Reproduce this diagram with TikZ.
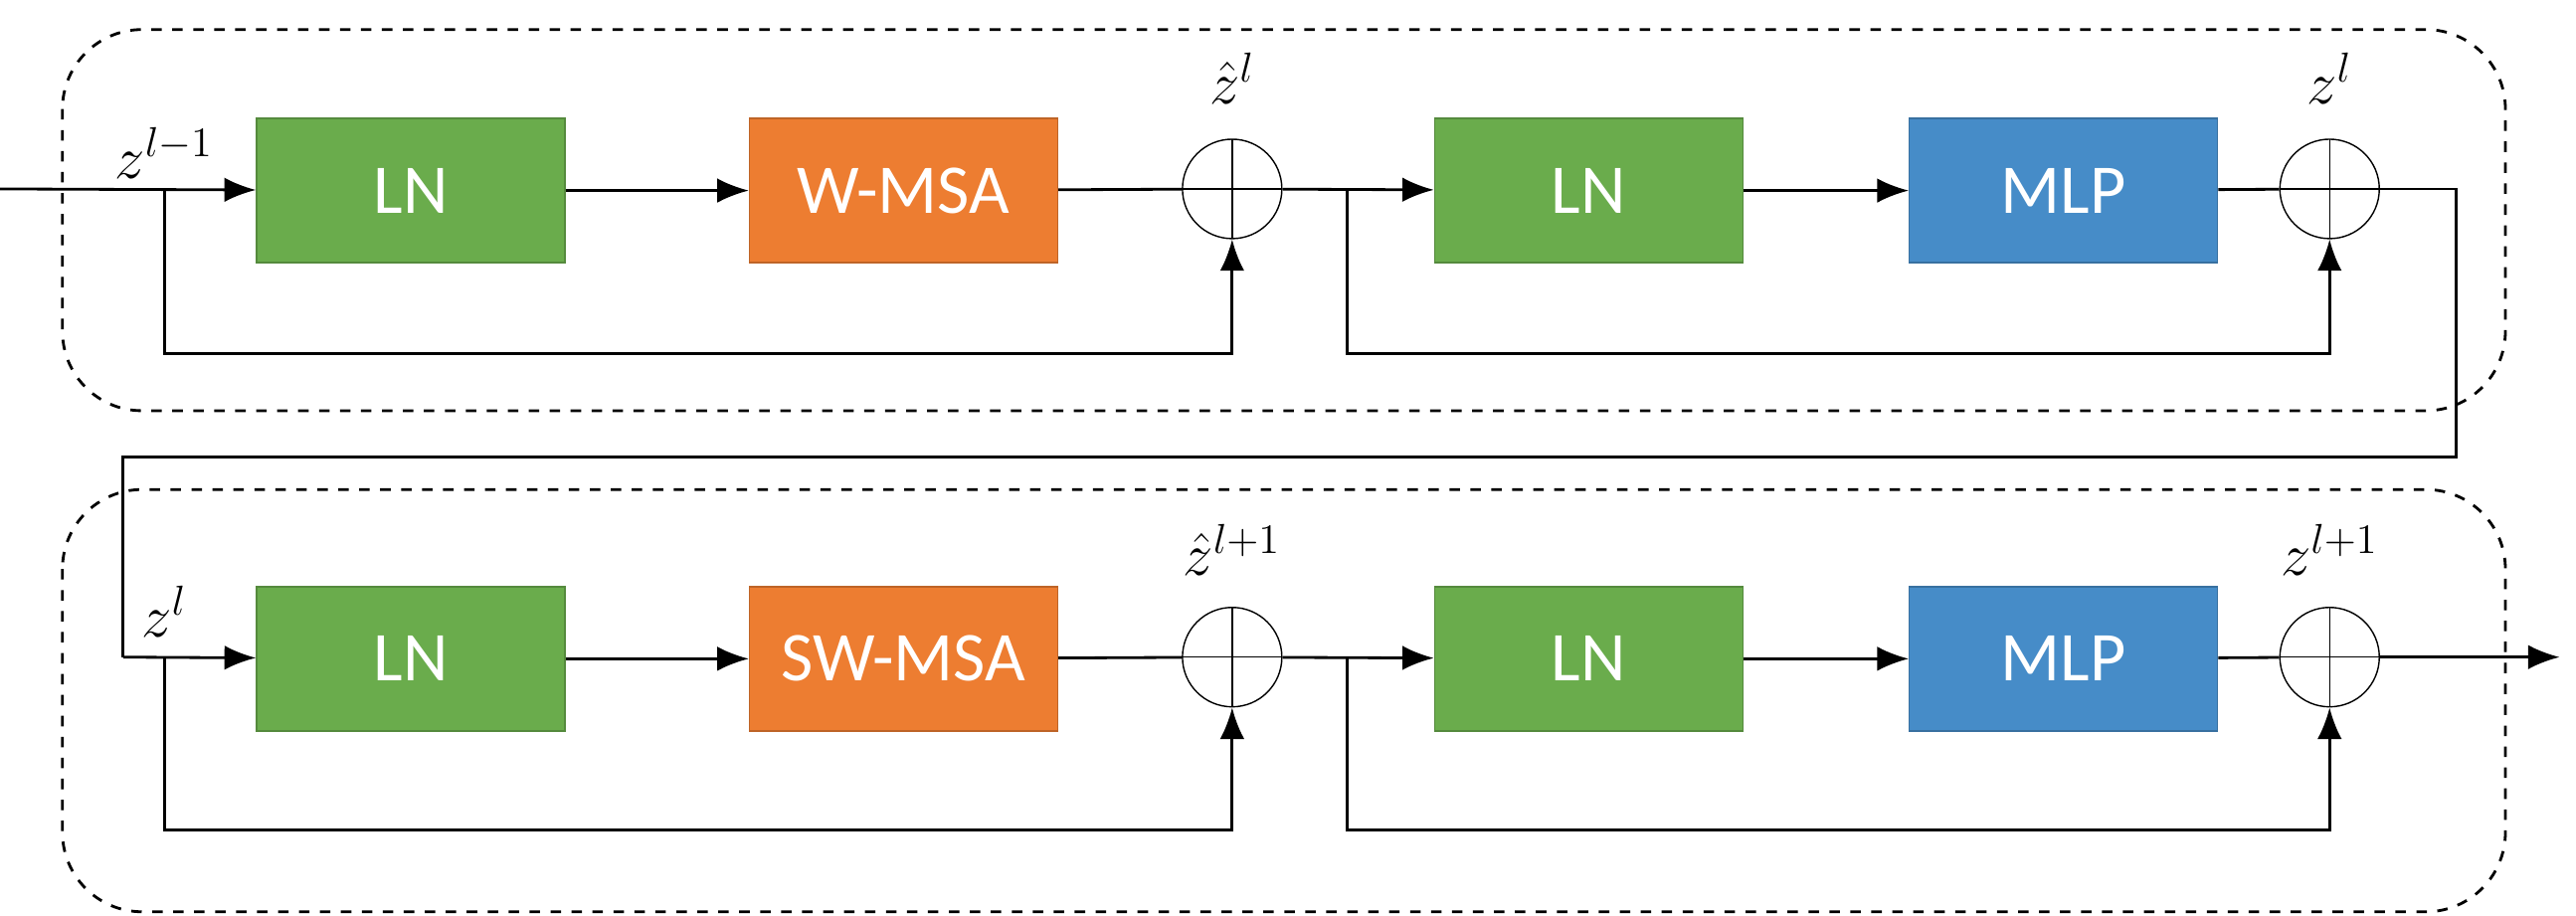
\documentclass[tikz,border=0pt]{standalone}
\usepackage{fontspec}
\setmainfont{Carlito}
\usetikzlibrary{arrows.meta}
\definecolor{lngreen}{RGB}{106,172,76}
\definecolor{msaorange}{RGB}{237,125,49}
\definecolor{mlpblue}{RGB}{70,140,200}
\begin{document}
\begin{tikzpicture}[x=0.01652cm,y=-0.01652cm,
  blk/.style={draw=#1!80!black,fill=#1,minimum width=3.1cm,minimum height=1.45cm,
    text=white,font=\fontsize{20}{24}\selectfont},
  add/.style={draw,circle,minimum size=1cm,inner sep=0pt,
    path picture={\draw (path picture bounding box.north)--(path picture bounding box.south)
      (path picture bounding box.west)--(path picture bounding box.east);}},
  arr/.style={-{Latex[length=9pt,width=7pt]},thick},
  ln/.style={thick},
  lab/.style={font=\fontsize{18}{20}\selectfont},
  frame/.style={draw,dashed,thick,rounded corners=0.8cm}]
\useasboundingbox (0,0) rectangle (1568,557);
\draw[frame] (38,18) rectangle (1525,250);
\draw[frame] (38,298) rectangle (1525,555);
% top row
\coordinate (in) at (0,115);
\node[blk=lngreen] (ln1) at (250,116) {LN};
\node[blk=msaorange] (msa1) at (550,116) {W-MSA};
\node[add] (a1) at (750,115) {};
\node[blk=lngreen] (ln2) at (967,116) {LN};
\node[blk=mlpblue] (mlp1) at (1256,116) {MLP};
\node[add] (a2) at (1418,115) {};
\node[lab] at (100,93) {$z^{l-1}$};
\node[lab] at (750,48) {$\hat{z}^{l}$};
\node[lab] at (1418,48) {$z^{l}$};
\draw[arr] (in) -- (ln1);
\draw[arr] (ln1) -- (msa1);
\draw[ln] (msa1) -- (a1);
\draw[arr] (a1) -- (ln2);
\draw[arr] (ln2) -- (mlp1);
\draw[ln] (mlp1) -- (a2);
\draw[arr] (100,115) -- (100,215) -- (750,215) -- (a1.south);
\draw[arr] (820,115) -- (820,215) -- (1418,215) -- (a2.south);
% bottom row
\node[blk=lngreen] (ln3) at (250,401) {LN};
\node[blk=msaorange] (msa2) at (550,401) {SW-MSA};
\node[add] (a3) at (750,400) {};
\node[blk=lngreen] (ln4) at (967,401) {LN};
\node[blk=mlpblue] (mlp2) at (1256,401) {MLP};
\node[add] (a4) at (1418,400) {};
\coordinate (out) at (1558,400);
\node[lab] at (100,372) {$z^{l}$};
\node[lab] at (750,335) {$\hat{z}^{l+1}$};
\node[lab] at (1418,335) {$z^{l+1}$};
\draw[ln] (a2) -- (1495,115) -- (1495,278) -- (75,278) -- (75,400);
\draw[arr] (75,400) -- (ln3);
\draw[arr] (ln3) -- (msa2);
\draw[ln] (msa2) -- (a3);
\draw[arr] (a3) -- (ln4);
\draw[arr] (ln4) -- (mlp2);
\draw[ln] (mlp2) -- (a4);
\draw[arr] (a4) -- (out);
\draw[arr] (100,400) -- (100,505) -- (750,505) -- (a3.south);
\draw[arr] (820,400) -- (820,505) -- (1418,505) -- (a4.south);
\end{tikzpicture}
\end{document}
